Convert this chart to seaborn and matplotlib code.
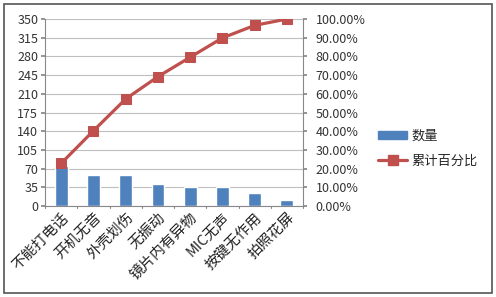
import numpy as np
import pandas as pd
import matplotlib
matplotlib.use("Agg")
import matplotlib.pyplot as plt
import seaborn as sns
from matplotlib.patches import Patch, Rectangle
from matplotlib.lines import Line2D

categories = ["不能打电话", "开机无音", "外壳划伤", "无振动", "镜片内有异物", "MIC无声", "按键无作用", "拍照花屏"]
counts = [75, 59, 58, 42, 35, 35, 24, 12]
cum_pct = [22.9, 40.3, 57.3, 69.2, 79.6, 89.9, 96.6, 100.0]
left_ticks = [0, 35, 70, 105, 140, 175, 210, 245, 280, 315, 350]
right_ticks = [0, 10, 20, 30, 40, 50, 60, 70, 80, 90, 100]

sns.set_theme(style="white")
plt.rcParams['font.family'] = ['Noto Sans CJK SC', 'DejaVu Sans']

BLUE = "#4F81BD"
RED = "#C0504D"
GRID = "#BFBFBF"

df = pd.DataFrame({"cat": categories, "count": counts, "cum": cum_pct})

fig = plt.figure(figsize=(4.96, 2.97), dpi=100)
ax = fig.add_axes([0.091, 0.306, 0.520, 0.630])
sns.barplot(data=df, x="cat", y="count", color=BLUE, width=0.4, saturation=1, ax=ax)
ax.set_ylim(0, 350)
ax.set_yticks(left_ticks)
ax.set_yticklabels([str(t) for t in left_ticks], fontsize=9, color="#333333")
ax.yaxis.grid(True, color=GRID, linewidth=0.8)
ax.set_axisbelow(True)
ax.set_xlim(-0.5, len(categories) - 0.5)
ax.set_xlabel("")
ax.set_ylabel("")
ax.set_xticks(np.arange(len(categories)))
ax.set_xticklabels(categories, rotation=45, ha="right", rotation_mode="anchor", fontsize=10.5, color="#222222")
ax.tick_params(axis="x", length=0, pad=3)
ax.tick_params(axis="y", length=3, left=True, color="#888888", pad=2)
for s in ["top", "right"]:
    ax.spines[s].set_visible(False)
for s in ["left", "bottom"]:
    ax.spines[s].set_color("#888888")
    ax.spines[s].set_linewidth(0.8)
# category separators on x axis
for b in np.arange(len(categories) + 1) - 0.5:
    ax.plot([b, b], [0, -4], color="#888888", lw=0.8, clip_on=False)

ax2 = ax.twinx()
sns.lineplot(x=np.arange(len(categories)), y=df["cum"], ax=ax2, color=RED, lw=2.3,
             marker="s", markersize=7.5, markeredgecolor=RED)
ax2.set_ylim(0, 100)
ax2.set_yticks(right_ticks)
ax2.set_yticklabels([f"{t:.2f}%" for t in right_ticks], fontsize=9, color="#333333")
ax2.set_xlim(-0.5, len(categories) - 0.5)
ax2.set_ylabel("")
ax2.tick_params(axis="y", length=3, right=True, color="#888888", pad=6)
for s in ["top", "left", "bottom"]:
    ax2.spines[s].set_visible(False)
ax2.spines["right"].set_color("#888888")
ax2.spines["right"].set_linewidth(0.8)

handles = [Patch(facecolor=BLUE, edgecolor=BLUE),
           Line2D([0], [0], color=RED, lw=2.3, marker="s", markersize=6.5)]
fig.legend(handles, ["数量", "累计百分比"], loc="center left", bbox_to_anchor=(0.739, 0.50),
           frameon=False, fontsize=9.5, handlelength=2.2, handleheight=0.5, labelspacing=0.9,
           handletextpad=0.3)

fig.patches.append(Rectangle((0.008, 0.012), 0.984, 0.976, transform=fig.transFigure,
                             fill=False, edgecolor="#555555", lw=1.2))

fig.savefig("out.png", dpi=100)
